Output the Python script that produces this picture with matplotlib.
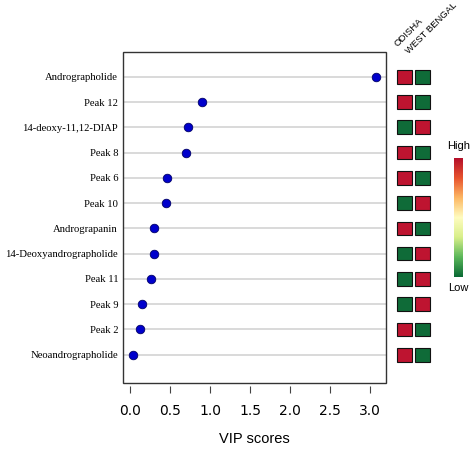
import matplotlib
matplotlib.use("Agg")
import matplotlib.pyplot as plt
from matplotlib.patches import Rectangle
from matplotlib.colors import LinearSegmentedColormap
import numpy as np

# data, top to bottom
compounds = ["Andrographolide", "Peak 12", "14-deoxy-11,12-DIAP", "Peak 8", "Peak 6",
             "Peak 10", "Andrograpanin", "14-Deoxyandrographolide", "Peak 11",
             "Peak 9", "Peak 2", "Neoandrographolide"]
vip = [3.07, 0.90, 0.72, 0.70, 0.46, 0.45, 0.30, 0.30, 0.26, 0.15, 0.12, 0.03]
regions = ["ODISHA", "WEST BENGAL"]
# 1 = high, 0 = low
odisha = [1, 1, 0, 1, 1, 0, 1, 0, 0, 0, 1, 1]
west_bengal = [0, 0, 1, 0, 0, 1, 0, 1, 1, 1, 0, 0]
xticks = [0.0, 0.5, 1.0, 1.5, 2.0, 2.5, 3.0]

W, H = 474, 458
fig = plt.figure(figsize=(W / 100, H / 100), dpi=100)

def fbox(x0, y0, x1, y1):
    # pixel box -> figure coords
    return [x0 / W, 1 - y1 / H, (x1 - x0) / W, (y1 - y0) / H]

ax = fig.add_axes(fbox(123, 52, 386, 383))
n = len(compounds)
ypos = np.arange(n)
for y in ypos:
    ax.axhline(y, color="#d9d9d9", lw=1.4, zorder=1)
ax.scatter(vip, ypos, s=38, color="#0000cc", edgecolors="#000066", linewidths=0.6, zorder=3)
ax.set_ylim(n - 1 + 1.12, -0.98)
ax.set_xlim(-0.09, 3.2)
ax.set_yticks(ypos)
ax.set_yticklabels(compounds, family="Liberation Serif", fontsize=7.7)
ax.tick_params(axis="y", length=0, pad=3.5)
ax.set_xticks(xticks)
ax.set_xticklabels(["%.1f" % t for t in xticks], family="Liberation Sans", fontsize=10.5)
ax.tick_params(axis="x", length=5, width=0.8, color="#444444", pad=8)
for s in ["top", "right", "left"]:
    ax.spines[s].set_visible(False)
ax.spines["bottom"].set_position(("outward", 2))
ax.spines["bottom"].set_visible(False)
ax.add_patch(Rectangle((0, 0), 1, 1, transform=ax.transAxes, fill=False,
                       ec="#333333", lw=1.0, clip_on=False, zorder=4))
ax.set_xlabel("VIP scores", family="Liberation Sans", fontsize=10.5, labelpad=10)

# heatmap squares
red, green = "#be1430", "#0f6b38"
hax = fig.add_axes(fbox(396, 52, 432, 383))
hax.set_ylim(ax.get_ylim())
hax.set_xlim(0, 2)
hax.axis("off")
for j, vals in enumerate([odisha, west_bengal]):
    for i, v in enumerate(vals):
        hax.add_patch(Rectangle((j + 0.08, i - 0.27), 0.8, 0.54,
                                fc=red if v else green, ec="#111111", lw=0.8))
for j, name in enumerate(regions):
    x = (398 + j * 11) / W
    fig.text(x, 1 - (47 + j * 7) / H, name, rotation=45, rotation_mode="anchor",
             ha="left", va="baseline", fontsize=6.8, family="Liberation Sans")

# colour key
cmap = LinearSegmentedColormap.from_list("key", ["#0b6b35", "#5cb85a", "#d8ef8a", "#fffcc0",
                                                 "#fdb864", "#e8542e", "#b5102a"])
cax = fig.add_axes(fbox(454, 158, 463, 277))
cax.imshow(np.linspace(1, 0, 200).reshape(-1, 1), aspect="auto", cmap=cmap)
cax.axis("off")
fig.text(458.5 / W, 1 - 146 / H, "High", ha="center", va="center", fontsize=8, family="Liberation Sans")
fig.text(458.5 / W, 1 - 288 / H, "Low", ha="center", va="center", fontsize=8, family="Liberation Sans")

fig.savefig("out.png", dpi=100)
